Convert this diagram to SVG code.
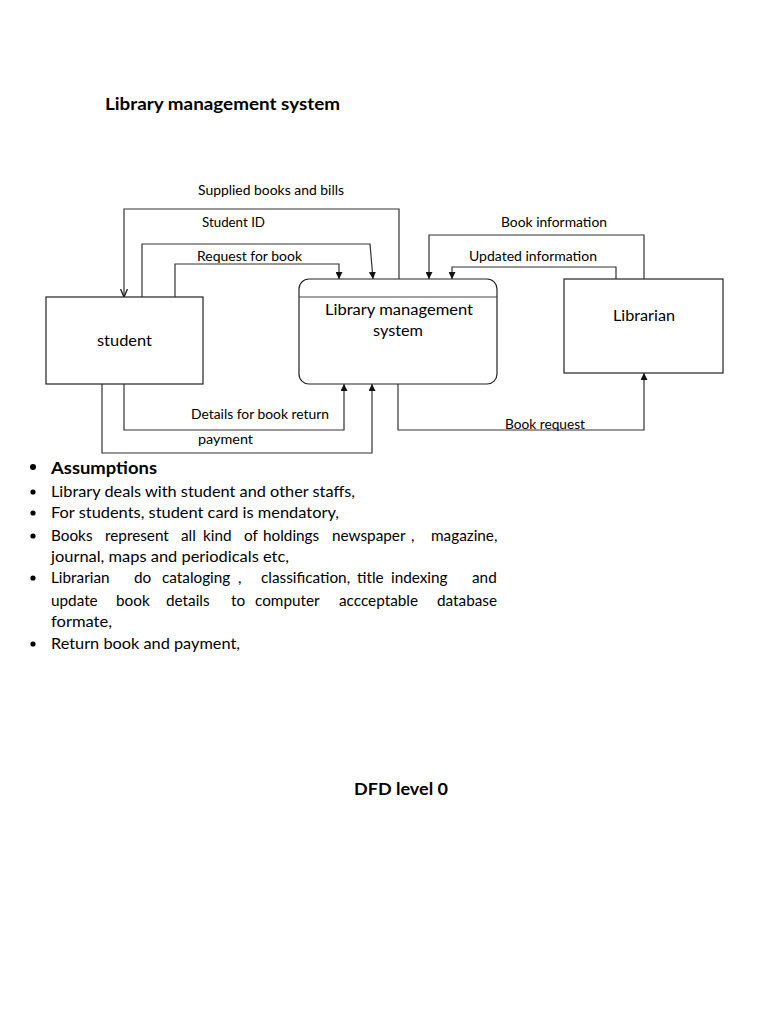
<svg xmlns="http://www.w3.org/2000/svg" width="768" height="1024" viewBox="0 0 768 1024">
<style>
text{font-family:Lato,"Open Sans","Liberation Sans",sans-serif;fill:#000}
.lbl{font-size:12.5px}
.node{font-size:14.5px}
.h{font-size:17px;font-weight:bold}
.body{font-size:15.3px}
.box{fill:#fff;stroke:#222;stroke-width:1.2}
.flow{fill:none;stroke:#333;stroke-width:1.2}
</style>
<defs>
<marker id="ah" viewBox="0 0 8 8" refX="8" refY="4" markerWidth="7" markerHeight="7" markerUnits="userSpaceOnUse" orient="auto">
<path d="M0,0 L8,4 L0,8 Z" fill="#111"/>
</marker>
<marker id="av" viewBox="0 0 8 8" refX="8" refY="4" markerWidth="8" markerHeight="8" markerUnits="userSpaceOnUse" orient="auto">
<path d="M0,0.5 L8,4 L0,7.5" fill="none" stroke="#222" stroke-width="1.4"/>
</marker>
</defs>
<rect width="768" height="1024" fill="#fff"/>

<text class="h" x="105" y="110" textLength="235" lengthAdjust="spacingAndGlyphs">Library management system</text>

<g id="student">
<rect class="box" x="46" y="297" width="157" height="87"/>
<text class="node" x="97" y="346" textLength="55" lengthAdjust="spacingAndGlyphs">student</text>
</g>
<g id="lms">
<rect class="box" x="299" y="279" width="198" height="105" rx="10" ry="10"/>
<line x1="299" y1="297" x2="497" y2="297" stroke="#444" stroke-width="1.2"/>
<text class="node" x="325" y="315" textLength="148" lengthAdjust="spacingAndGlyphs">Library management</text>
<text class="node" x="373" y="336" textLength="50" lengthAdjust="spacingAndGlyphs">system</text>
</g>
<g id="librarian">
<rect class="box" x="564" y="279" width="159" height="94"/>
<text class="node" x="613" y="321" textLength="62" lengthAdjust="spacingAndGlyphs">Librarian</text>
</g>

<g id="connectors">
<polyline class="flow" points="399,279 399,209 124,209 124,297" marker-end="url(#av)"/>
<polyline class="flow" points="142,297 142,244 370,244 373,279" marker-end="url(#ah)"/>
<polyline class="flow" points="175,297 175,264 339,264 339,279" marker-end="url(#ah)"/>
<polyline class="flow" points="124,384 124,430 344,430 344,384" marker-end="url(#ah)"/>
<polyline class="flow" points="102,384 102,453 372,453 372,384" marker-end="url(#ah)"/>
<polyline class="flow" points="398,384 398,430 644,430 644,373" marker-end="url(#ah)"/>
<polyline class="flow" points="644,279 644,235 429,235 429,279" marker-end="url(#ah)"/>
<polyline class="flow" points="616,279 616,267 452,267 452,279" marker-end="url(#ah)"/>
<text class="lbl" x="198" y="195" textLength="146" lengthAdjust="spacingAndGlyphs">Supplied books and bills</text>
<text class="lbl" x="202" y="227" textLength="63" lengthAdjust="spacingAndGlyphs">Student ID</text>
<text class="lbl" x="197" y="261" textLength="105" lengthAdjust="spacingAndGlyphs">Request for book</text>
<text class="lbl" x="501" y="227" textLength="106" lengthAdjust="spacingAndGlyphs">Book information</text>
<text class="lbl" x="469" y="261" textLength="128" lengthAdjust="spacingAndGlyphs">Updated information</text>
<text class="lbl" x="191" y="419" textLength="138" lengthAdjust="spacingAndGlyphs">Details for book return</text>
<text class="lbl" x="198" y="444" textLength="55" lengthAdjust="spacingAndGlyphs">payment</text>
<text class="lbl" x="505" y="429" textLength="80" lengthAdjust="spacingAndGlyphs">Book request</text>
</g>

<g id="assumptions">
<circle cx="33" cy="467" r="3"/>
<circle cx="33" cy="492" r="2.6"/>
<circle cx="33" cy="513" r="2.6"/>
<circle cx="33" cy="536" r="2.6"/>
<circle cx="33" cy="578" r="2.6"/>
<circle cx="33" cy="644" r="2.6"/>
<text class="h" x="51" y="474" font-size="18" textLength="106" lengthAdjust="spacingAndGlyphs">Assumptions</text>
<text class="body" x="51" y="497" textLength="304" lengthAdjust="spacingAndGlyphs">Library deals with student and other staffs,</text>
<text class="body" x="51" y="518" textLength="288" lengthAdjust="spacingAndGlyphs">For students, student card is mendatory,</text>
<text class="body" y="541"><tspan x="51">Books</tspan><tspan x="105">represent</tspan><tspan x="181">all</tspan><tspan x="203">kind</tspan><tspan x="244">of</tspan><tspan x="263">holdings</tspan><tspan x="332">newspaper</tspan><tspan x="411">,</tspan><tspan x="431">magazine,</tspan></text>
<text class="body" x="51" y="562" textLength="238" lengthAdjust="spacingAndGlyphs">journal, maps and periodicals etc,</text>
<text class="body" y="583"><tspan x="51">Librarian</tspan><tspan x="134">do</tspan><tspan x="162">cataloging</tspan><tspan x="238">,</tspan><tspan x="261">classification,</tspan><tspan x="357">title</tspan><tspan x="391">indexing</tspan><tspan x="472">and</tspan></text>
<text class="body" y="606"><tspan x="51">update</tspan><tspan x="116">book</tspan><tspan x="166">details</tspan><tspan x="231">to</tspan><tspan x="255">computer</tspan><tspan x="339">accceptable</tspan><tspan x="437">database</tspan></text>
<text class="body" x="51" y="627" textLength="61" lengthAdjust="spacingAndGlyphs">formate,</text>
<text class="body" x="51" y="649" textLength="189" lengthAdjust="spacingAndGlyphs">Return book and payment,</text>
</g>

<text class="h" x="354" y="795" textLength="94" lengthAdjust="spacingAndGlyphs">DFD level 0</text>
</svg>
